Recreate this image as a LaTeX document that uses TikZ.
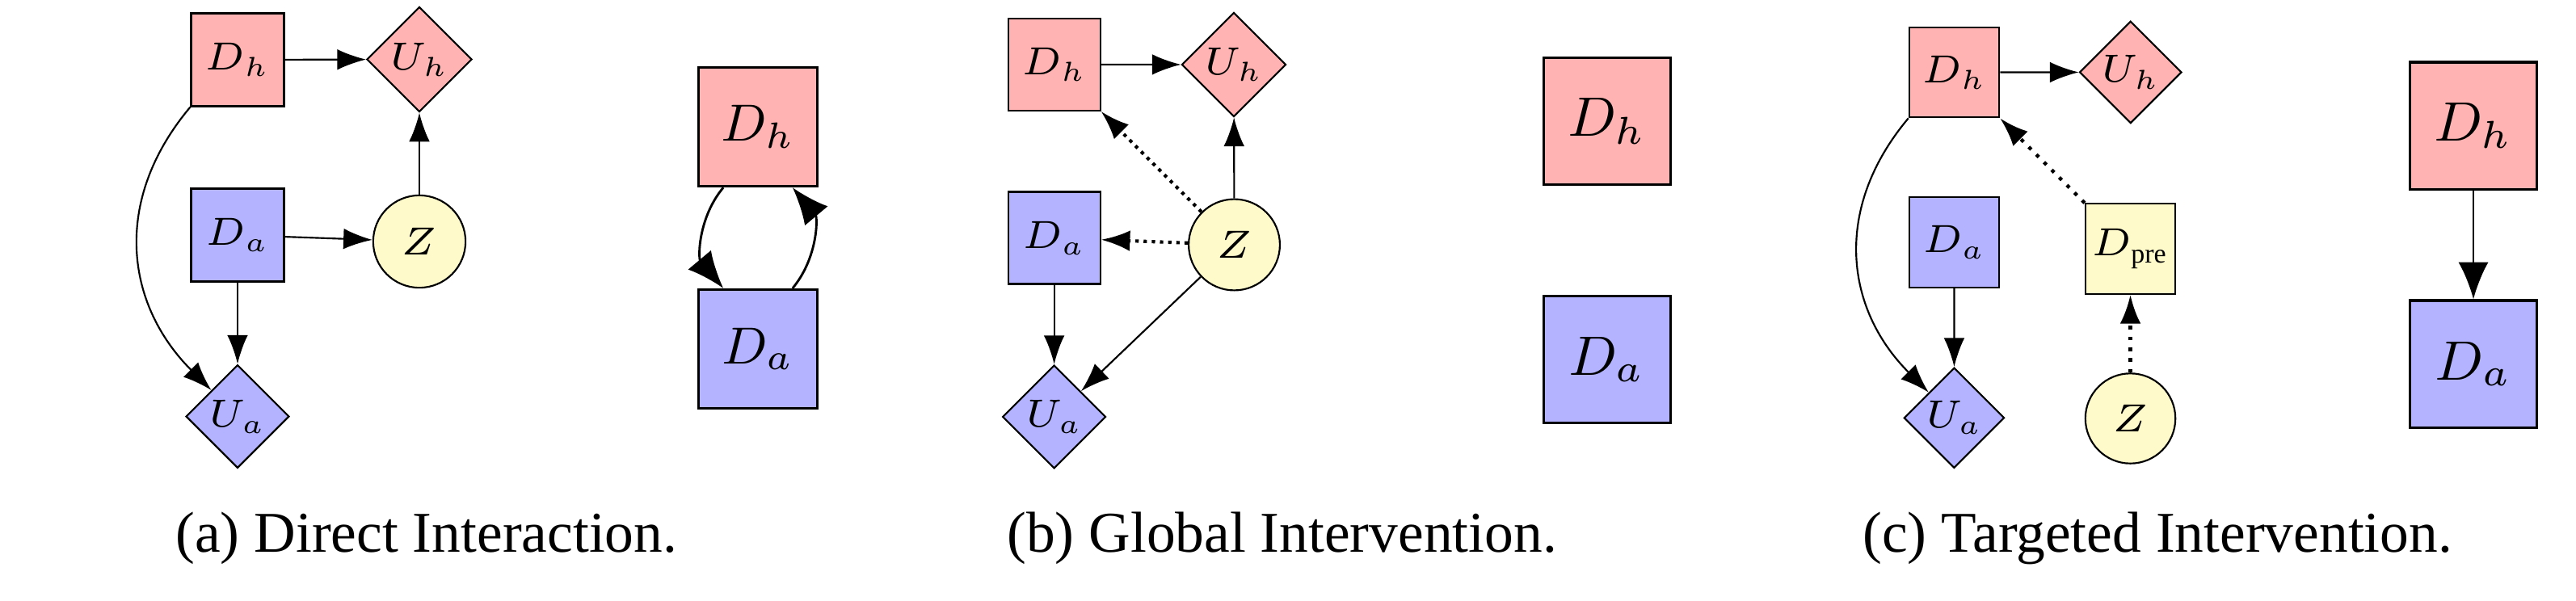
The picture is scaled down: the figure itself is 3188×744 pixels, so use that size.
\RequirePackage{fix-cm}
\documentclass[tikz,border=0pt]{standalone}
\usepackage{amsmath}
\usepackage{fontspec}
\setmainfont{Liberation Serif}
\usetikzlibrary{shapes.geometric,arrows.meta}
\definecolor{pinkfill}{RGB}{255,179,179}
\definecolor{bluefill}{RGB}{179,179,255}
\definecolor{yelfill}{RGB}{255,250,202}
\begin{document}
\begin{tikzpicture}[x=0.14pt,y=0.14pt,
  sfont/.style={font=\fontsize{6.8}{8}\selectfont},
  sbox/.style={rectangle, draw, line width=0.3pt, inner sep=0pt, minimum size=#1, sfont},
  sbox/.default=16.1pt,
  util/.style={diamond, aspect=1, draw, line width=0.3pt, inner sep=0pt, minimum size=#1, sfont},
  util/.default=18pt,
  chance/.style={circle, draw, line width=0.3pt, inner sep=0pt, minimum size=#1, fill=yelfill, sfont},
  chance/.default=16pt,
  bigbox/.style={rectangle, draw, line width=0.45pt, inner sep=0pt, minimum size=#1},
  hum/.style={fill=pinkfill},
  ai/.style={fill=bluefill},
  pre/.style={fill=yelfill},
  edge/.style={-{Latex[length=5pt,width=3.6pt]}, line width=0.3pt},
  dotedge/.style={-{Latex[length=5pt,width=3.6pt]}, line width=0.58pt, dash pattern=on 0.58pt off 0.84pt},
  dotedgewide/.style={-{Latex[length=5pt,width=3.6pt]}, line width=0.62pt, dash pattern=on 0.62pt off 1.25pt},
  bigedge/.style={-{Latex[length=6.4pt,width=5.2pt]}, line width=0.4pt},
  caption/.style={anchor=base west, inner sep=0pt, font=\fontsize{10}{12}\selectfont}
]
\useasboundingbox (0,0) rectangle (3188,-744);

% ---------- (a) ----------
\node[sbox, hum] (dhA) at (294,-74) {$D_h$};
\node[util, hum, minimum size=18.2pt] (uhA) at (519,-73.5) {$U_h$};
\node[sbox, ai] (daA) at (294,-291) {$D_a$};
\node[chance] (zA) at (519,-299) {$Z$};
\node[util, ai, minimum size=17.9pt] (uaA) at (294,-515.5) {$U_a$};
\draw[edge] (dhA) -- (uhA);
\draw[edge] (zA) -- (uhA);
\draw[edge] (daA) -- (zA);
\draw[edge] (daA) -- (uaA);
\draw[edge] (dhA.south west) to[out=230,in=135,looseness=1.1] (uaA);

\node[bigbox, hum, minimum size=20.6pt, font=\fontsize{9.06}{11}\selectfont] (dhA2) at (938,-157) {$D_h$};
\node[bigbox, ai, minimum size=20.6pt, font=\fontsize{9.06}{11}\selectfont] (daA2) at (938,-432) {$D_a$};
\draw[bigedge] ([xshift=-6pt]dhA2.south) to[bend right=40] ([xshift=-6pt]daA2.north);
\draw[bigedge] ([xshift=6pt]daA2.north) to[bend right=40] ([xshift=6pt]dhA2.south);

\node[caption] (capA) at (216,-683) {(a) Direct Interaction.};

% ---------- (b) ----------
\node[sbox=15.96pt, hum] (dhB) at (1304.6,-79.8) {$D_h$};
\node[util, hum, minimum size=18.06pt] (uhB) at (1527,-80) {$U_h$};
\node[sbox=15.96pt, ai] (daB) at (1304.6,-294.5) {$D_a$};
\node[chance=15.8pt] (zB) at (1527.5,-303) {$Z$};
\node[util, ai, minimum size=17.9pt] (uaB) at (1304.6,-516) {$U_a$};
\draw[edge] (dhB) -- (uhB);
\draw[edge] (zB) -- (uhB);
\draw[dotedge] (zB) -- (dhB);
\draw[dotedge] (zB) -- (daB);
\draw[edge] (zB) -- (uaB);
\draw[edge] (daB) -- (uaB);

\node[bigbox, hum, minimum size=22pt, font=\fontsize{9.63}{11}\selectfont] (dhB2) at (1988.8,-150) {$D_h$};
\node[bigbox, ai, minimum size=22pt, font=\fontsize{9.63}{11}\selectfont] (daB2) at (1988.8,-445) {$D_a$};

\node[caption] (capB) at (1245,-683) {(b) Global Intervention.};

% ---------- (c) ----------
\node[sbox=15.6pt, hum] (dhC) at (2418.5,-89.6) {$D_h$};
\node[util, hum, minimum size=17.7pt] (uhC) at (2636.8,-89.4) {$U_h$};
\node[sbox=15.6pt, ai] (daC) at (2418.5,-300) {$D_a$};
\node[sbox=15.6pt, pre] (dpreC) at (2636.5,-308) {$D_{\text{pre}}$};
\node[chance=15.6pt] (zC) at (2636.5,-518) {$Z$};
\node[util, ai, minimum size=17.4pt] (uaC) at (2418.4,-517.3) {$U_a$};
\draw[edge] (dhC) -- (uhC);
\draw[edge] (daC) -- (uaC);
\draw[edge] (dhC.south west) to[out=230,in=135,looseness=1.1] (uaC);
\draw[dotedgewide] (dpreC) -- (dhC);
\draw[dotedgewide] (zC) -- (dpreC);

\node[bigbox, hum, minimum size=22pt, font=\fontsize{9.63}{11}\selectfont] (dhC2) at (3061,-155.6) {$D_h$};
\node[bigbox, ai, minimum size=22pt, font=\fontsize{9.63}{11}\selectfont] (daC2) at (3061,-450.6) {$D_a$};
\draw[bigedge] (dhC2) -- (daC2);

\node[caption] (capC) at (2304,-683) {(c) Targeted Intervention.};
\end{tikzpicture}
\end{document}
